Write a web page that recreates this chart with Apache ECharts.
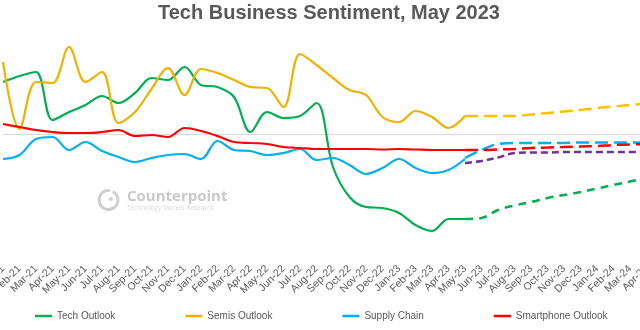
<!DOCTYPE html>
<html>
<head>
<meta charset="utf-8">
<script src="https://cdn.jsdelivr.net/npm/echarts@6/dist/echarts.min.js"></script>
<style>html,body{margin:0;padding:0;background:#fff}#c{width:640px;height:330px}</style>
</head>
<body>
<div id="c"></div>
<script>
const categories = ['Jan-21','Feb-21','Mar-21','Apr-21','May-21','Jun-21','Jul-21','Aug-21','Sep-21','Oct-21','Nov-21','Dec-21',
  'Jan-22','Feb-22','Mar-22','Apr-22','May-22','Jun-22','Jul-22','Aug-22','Sep-22','Oct-22','Nov-22','Dec-22',
  'Jan-23','Feb-23','Mar-23','Apr-23','May-23','Jun-23','Jul-23','Aug-23','Sep-23','Oct-23','Nov-23','Dec-23',
  'Jan-24','Feb-24','Mar-24','Apr-24'];
const forecastStart = 'May-23';

// actuals Jan-21 .. May-23
const techOutlook = [52,58,62,14,22,29,38,31,41,56,54,67,49,47,37,2,22,16,18,31,-33,-63,-73,-74,-79,-91,-97,-85,-85];
const semisOutlook = [72,5,52,51,87,52,62,11,22,45,66,39,65,61,54,47,46,27,80,69,56,44,39,17,12,23,17,6,18];
const supplyChain = [-25,-21,-5,-3,-16,-8,-17,-23,-28,-24,-21,-20,-25,-7,-16,-17,-21,-19,-15,-26,-24,-31,-40,-34,-25,-34,-39,-36,-25];
const smartphoneOutlook = [10,7,4,2,1,1,2,4,-2,-1,-3,6,3,-2,-8,-9,-10,-13,-14,-15,-15,-15,-15,-15.5,-15,-15.5,-16,-16,-16];

// forecasts May-23 .. Apr-24
const techForecast = [-85,-84,-76,-71.5,-68,-64,-61,-58,-54.5,-51,-47.5,-44];
const semisForecast = [18,18,18,18,19.5,21,22.5,24,26,27.5,29,30.5];
const supplyForecast = [-24,-16,-10,-9,-9,-9,-9,-8.5,-8.5,-8.5,-8.5,-8.5];
const smartphoneForecast = [-16,-16,-15.5,-15,-14,-13.5,-13,-12.5,-12,-11,-10.5,-10];
const otherForecast = [-29,-27,-23.5,-19,-18.5,-18.5,-18,-18,-18,-18,-18,-18];

const fIdx = categories.indexOf(forecastStart);
function pad(arr){ const out = new Array(fIdx).fill(null); return out.concat(arr); }

const C = {tech:'#00B050', semis:'#F2B000', semisF:'#FFC000', supply:'#00B0F0', phone:'#FF0000', other:'#7030A0'};
const FONT = 'Liberation Sans, Arial, sans-serif';

function solid(name, data, color, extra){
  return Object.assign({name, type:'line', data, smooth:0.35, symbol:'none', showSymbol:false,
    lineStyle:{color, width:2.2}, itemStyle:{color}, emphasis:{disabled:true}}, extra||{});
}
function dashed(name, data, color, dash, w){
  return {name, type:'line', data:pad(data), smooth:0.35, symbol:'none', showSymbol:false,
    lineStyle:{color, width:w||2.5, type:dash}, itemStyle:{color}, emphasis:{disabled:true}};
}

const chart = echarts.init(document.getElementById('c'), null, {renderer:'canvas'});
chart.setOption({
  animation:false,
  backgroundColor:'#fff',
  title:{text:'Tech Business Sentiment, May 2023', left:158, top:3, padding:0,
    textStyle:{fontFamily:FONT, fontSize:20, fontWeight:'bold', color:'#595959'}},
  legend:{data:['Tech Outlook','Semis Outlook','Supply Chain','Smartphone Outlook'], left:35, top:311, padding:0,
    icon:'rect', itemWidth:17, itemHeight:2.5, itemGap:70,
    textStyle:{fontFamily:FONT, fontSize:10, color:'#595959'}},
  grid:{left:3, right:-6.5, top:40, bottom:71, outerBoundsMode:'none', containLabel:false},
  xAxis:{type:'category', data:categories, boundaryGap:false,
    axisLine:{show:false}, axisTick:{show:false}, splitLine:{show:false},
    axisLabel:{interval:0, rotate:45, margin:8, fontFamily:FONT, fontSize:10.5, color:'#595959'}},
  yAxis:{type:'value', min:-125, max:94, show:false},
  graphic:[
    {type:'arc', shape:{cx:108.5, cy:200, r:9.5, startAngle:-Math.PI*0.35, endAngle:Math.PI*1.55, clockwise:true},
      style:{stroke:'#cfcfcf', lineWidth:3, fill:null}, silent:true, z:0},
    {type:'circle', shape:{cx:111, cy:199, r:2}, style:{fill:'#cfcfcf'}, silent:true, z:0},
    {type:'text', left:127, top:189, style:{text:'Counterpoint', fontFamily:'Open Sans, Liberation Sans, sans-serif', fontWeight:'bold', fontSize:15, fill:'#c9c9c9'}, silent:true, z:0},
    {type:'text', left:127, top:205, style:{text:'Technology Market Research', fontFamily:'Open Sans, Liberation Sans, sans-serif', fontSize:6.5, fill:'#dadada'}, silent:true, z:0}
  ],
  series:[
    solid('Tech Outlook', techOutlook, C.tech, {markLine:{silent:true, symbol:'none', label:{show:false},
      lineStyle:{color:'#D9D9D9', width:1, type:'solid'}, emphasis:{disabled:true}, data:[{yAxis:0}], z:1}}),
    solid('Semis Outlook', semisOutlook, C.semis),
    solid('Supply Chain', supplyChain, C.supply),
    solid('Smartphone Outlook', smartphoneOutlook, C.phone),
    dashed('Tech Forecast', techForecast, C.tech, [8,6], 2.5),
    dashed('Semis Forecast', semisForecast, C.semisF, [13,6], 2.5),
    dashed('Supply Forecast', supplyForecast, C.supply, [13,6], 2.5),
    dashed('Other Forecast', otherForecast, C.other, [7,4], 2.5),
    dashed('Smartphone Forecast', smartphoneForecast, C.phone, [13,6], 2.5)
  ]
});
</script>
</body>
</html>
